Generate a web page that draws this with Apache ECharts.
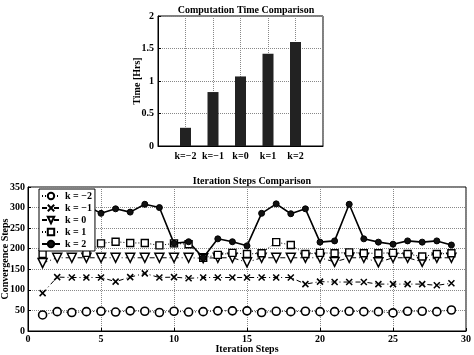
<!DOCTYPE html>
<html><head><meta charset="utf-8">
<script src="https://cdn.jsdelivr.net/npm/echarts@6/dist/echarts.min.js"></script>
<style>html,body{margin:0;padding:0;background:#fff}#c{width:474px;height:355px}</style>
</head><body><div id="c"></div>
<script>
// Top chart data
const barCategories = ['k=\u22122', 'k=\u22121', 'k=0', 'k=1', 'k=2'];
const barPositions = [1, 2, 3, 4, 5];
const timeHrs = [0.28, 0.83, 1.07, 1.42, 1.60];

// Bottom chart data
const iterSteps = [1,2,3,4,5,6,7,8,9,10,11,12,13,14,15,16,17,18,19,20,21,22,23,24,25,26,27,28,29];
const seriesNames = ['k = \u22122', 'k = \u22121', 'k = 0', 'k = 1', 'k = 2'];
const kMinus2 = [39,47,45,47,48,46,49,48,45,48,46,47,49,49,49,45,48,47,48,47,47,48,47,47,44,48,48,47,51];
const kMinus1 = [92,131,130,130,130,120,131,140,130,131,128,130,130,130,130,130,130,130,114,120,119,119,119,114,114,114,114,111,116];
const k0 = [165,178,178,178,178,178,178,178,178,178,178,177,178,178,167,178,178,178,178,178,168,178,178,167,178,178,168,178,178];
const k1 = [187,212,214,190,213,217,214,214,208,213,211,178,185,190,187,189,216,209,187,190,189,191,189,189,190,187,181,187,189];
const k2 = [205,290,300,305,286,297,289,308,300,213,217,178,224,217,207,286,309,285,297,216,219,308,224,216,211,219,216,219,209];

const font = 'Liberation Serif';
const lbl = {fontFamily: font, fontWeight: 'bold', fontSize: 10, color: '#000'};
const pair = (xs, ys) => xs.map((x, i) => [x, ys[i]]);

const crossPath = 'path://M0,0L10,10M10,0L0,10';

const chart = echarts.init(document.getElementById('c'), null, {renderer: 'canvas'});
chart.setOption({
  animation: false,
  backgroundColor: '#fff',
  title: [
    {text: 'Computation Time Comparison', left: 241, top: 0, textAlign: 'center',
     textStyle: {fontFamily: font, fontWeight: 'bold', fontSize: 10, color: '#000'}},
    {text: 'Iteration Steps Comparison', left: 247, top: 171, textAlign: 'center',
     textStyle: {fontFamily: font, fontWeight: 'bold', fontSize: 10, color: '#000'}}
  ],
  legend: {
    orient: 'vertical', left: 39, top: 189,
    data: seriesNames,
    itemWidth: 18, itemHeight: 8, itemGap: 2,
    padding: [2, 3, 2, 2],
    backgroundColor: '#fff', borderColor: '#000', borderWidth: 1,
    textStyle: {fontFamily: font, fontWeight: 'bold', fontSize: 10, color: '#000', lineHeight: 10}
  },
  grid: [
    {left: 158, top: 16, width: 165, height: 130, show: true, borderColor: '#000', borderWidth: 1,
     containLabel: false, outerBoundsMode: 'none'},
    {left: 28, top: 187, width: 438, height: 144, show: true, borderColor: '#000', borderWidth: 1,
     containLabel: false, outerBoundsMode: 'none'}
  ],
  xAxis: [
    {type: 'value', gridIndex: 0, min: 0, max: 6, interval: 1,
     axisLine: {show: true, lineStyle: {color: '#000'}},
     axisTick: {show: false},
     splitLine: {show: true, lineStyle: {type: 'dotted', color: '#888'}},
     axisLabel: Object.assign({}, lbl, {margin: 5, formatter: v => (v >= 1 && v <= 5) ? barCategories[v - 1] : ''})},
    {type: 'value', gridIndex: 1, min: 0, max: 30, interval: 5,
     name: 'Iteration Steps', nameLocation: 'middle', nameGap: 13, nameMoveOverlap: false,
     nameTextStyle: {fontFamily: font, fontWeight: 'bold', fontSize: 10, color: '#000'},
     axisLine: {show: true, lineStyle: {color: '#000'}},
     axisTick: {show: true, inside: true, length: 3, lineStyle: {color: '#000'}},
     splitLine: {show: true, lineStyle: {type: 'dotted', color: '#888'}},
     axisLabel: Object.assign({}, lbl, {margin: 3})}
  ],
  yAxis: [
    {type: 'value', gridIndex: 0, min: 0, max: 2, interval: 0.5,
     name: 'Time [Hrs]', nameLocation: 'middle', nameGap: 16, nameMoveOverlap: false,
     nameTextStyle: {fontFamily: font, fontWeight: 'bold', fontSize: 10, color: '#000'},
     axisLine: {show: true, lineStyle: {color: '#000'}},
     axisTick: {show: true, inside: true, length: 3, lineStyle: {color: '#000'}},
     splitLine: {show: true, lineStyle: {type: 'dotted', color: '#888'}},
     axisLabel: Object.assign({}, lbl, {margin: 4})},
    {type: 'value', gridIndex: 1, min: 0, max: 350, interval: 50,
     name: 'Convergence Steps', nameLocation: 'middle', nameGap: 18, nameMoveOverlap: false,
     nameTextStyle: {fontFamily: font, fontWeight: 'bold', fontSize: 10, color: '#000'},
     axisLine: {show: true, lineStyle: {color: '#000'}},
     axisTick: {show: true, inside: true, length: 3, lineStyle: {color: '#000'}},
     splitLine: {show: true, lineStyle: {type: 'dotted', color: '#888'}},
     axisLabel: Object.assign({}, lbl, {margin: 3})}
  ],
  series: [
    {type: 'bar', xAxisIndex: 0, yAxisIndex: 0, barWidth: 11,
     data: pair(barPositions, timeHrs), itemStyle: {color: '#222'}},
    {name: seriesNames[0], type: 'line', xAxisIndex: 1, yAxisIndex: 1,
     data: pair(iterSteps, kMinus2),
     symbol: 'circle', symbolSize: 8,
     itemStyle: {color: '#fff', borderColor: '#000', borderWidth: 1.6},
     lineStyle: {color: '#000', width: 1, type: [1, 2]}},
    {name: seriesNames[1], type: 'line', xAxisIndex: 1, yAxisIndex: 1,
     data: pair(iterSteps, kMinus1),
     symbol: crossPath, symbolSize: 6,
     itemStyle: {color: '#000', borderColor: '#000', borderWidth: 1.5},
     lineStyle: {color: '#000', width: 1, type: [5, 3, 1, 3]}},
    {name: seriesNames[2], type: 'line', xAxisIndex: 1, yAxisIndex: 1,
     data: pair(iterSteps, k0),
     symbol: 'triangle', symbolRotate: 180, symbolSize: 9,
     itemStyle: {color: '#fff', borderColor: '#000', borderWidth: 1.5},
     lineStyle: {color: '#000', width: 1, type: [5, 3, 1, 3]}},
    {name: seriesNames[3], type: 'line', xAxisIndex: 1, yAxisIndex: 1,
     data: pair(iterSteps, k1),
     symbol: 'rect', symbolSize: 7,
     itemStyle: {color: '#fff', borderColor: '#000', borderWidth: 1.4},
     lineStyle: {color: '#000', width: 1, type: [1, 2]}},
    {name: seriesNames[4], type: 'line', xAxisIndex: 1, yAxisIndex: 1,
     data: pair(iterSteps, k2),
     symbol: 'circle', symbolSize: 6,
     itemStyle: {color: '#111', borderColor: '#000', borderWidth: 1},
     lineStyle: {color: '#000', width: 1.6, type: 'solid'}}
  ]
});
</script></body></html>
